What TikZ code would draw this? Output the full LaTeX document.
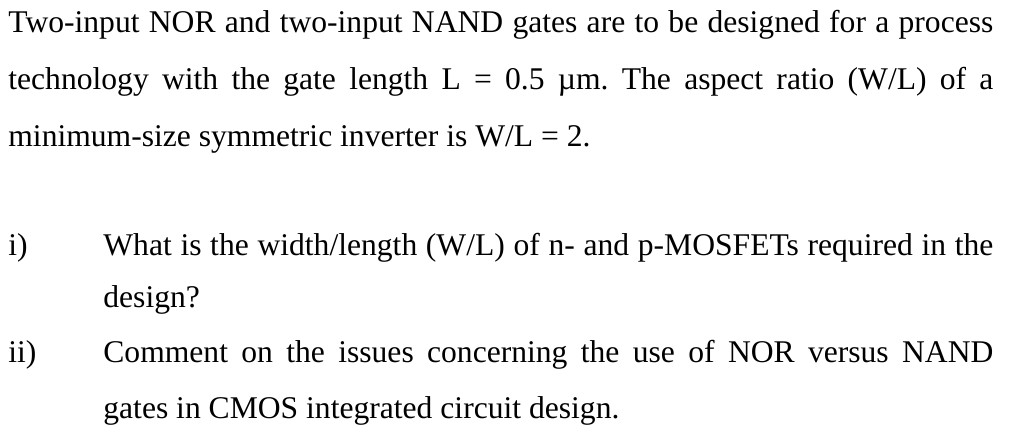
\documentclass[tikz,border=0pt]{standalone}
\usepackage{fontspec}
\setmainfont{Liberation Serif}
\frenchspacing
\begin{document}
\begin{tikzpicture}[x=0.5pt,y=-0.5pt,txt/.style={anchor=base west,inner sep=0pt,font=\fontsize{15.8}{18}\selectfont}]
\useasboundingbox (0,0) rectangle (1024,445);
\node[txt] (l1) at (8,32) {\makebox[492.5pt][s]{Two-input NOR and two-input NAND gates are to be designed for a process}};
\node[txt] (l2) at (8,89) {\makebox[492.5pt][s]{technology with the gate length L = 0.5 µm. The aspect ratio (W/L) of a}};
\node[txt] (l3) at (8,146) {minimum-size symmetric inverter is W/L = 2.};
\node[txt] (i) at (8,255) {i)};
\node[txt] (i1) at (103,255) {\makebox[445pt][s]{What is the width/length (W/L) of n- and p-MOSFETs required in the}};
\node[txt] (i2) at (103,307) {design?};
\node[txt] (ii) at (8,362) {ii)};
\node[txt] (ii1) at (103,362) {\makebox[445pt][s]{Comment on the issues concerning the use of NOR versus NAND}};
\node[txt] (ii2) at (103,418) {gates in CMOS integrated circuit design.};
\end{tikzpicture}
\end{document}
